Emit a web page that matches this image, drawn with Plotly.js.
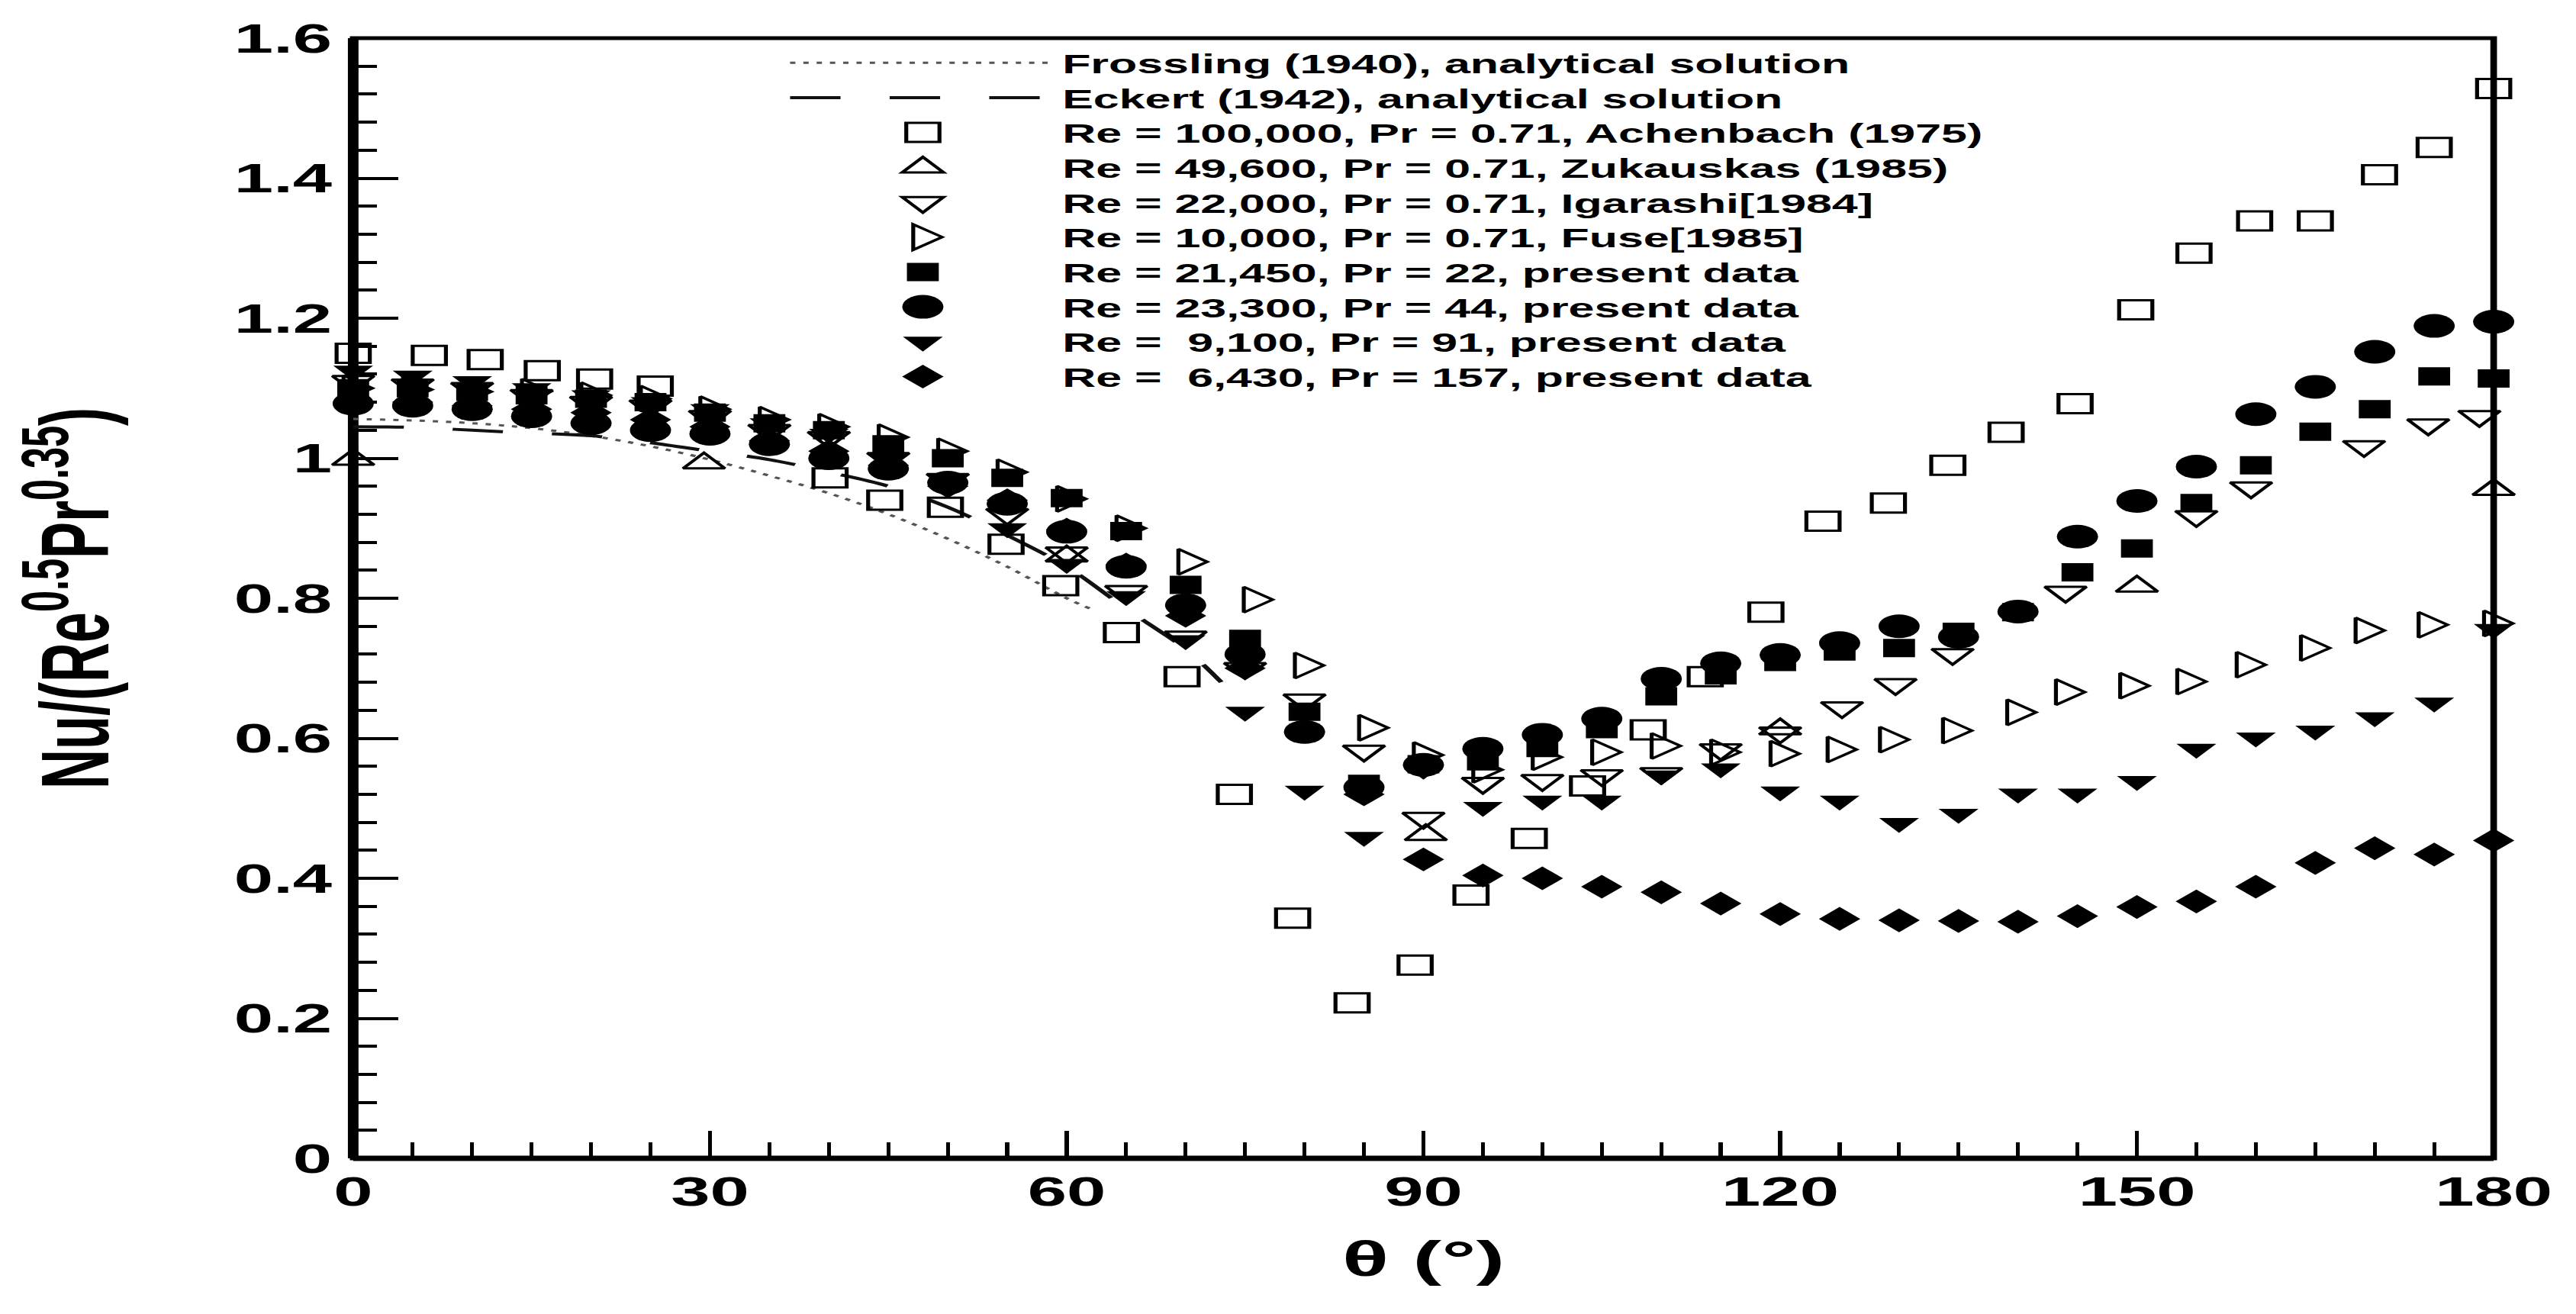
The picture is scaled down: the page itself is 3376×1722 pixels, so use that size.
<!DOCTYPE html>
<html>
<head>
<meta charset="utf-8">
<script src="https://cdn.plot.ly/plotly-3.0.1.min.js"></script>
<style>
  html, body { margin: 0; padding: 0; background: #fff; overflow: hidden; }
  /* the figure is laid out narrow and widened horizontally */
  #chart { width: 1940px; height: 1722px; transform: scaleX(1.7402); transform-origin: 0 0; }
</style>
</head>
<body>
<div id="chart"></div>
<script>
// ---- analytical solutions ----
const thetaFrossling = [0, 5, 10, 15, 20, 25, 30, 35, 40, 45, 50, 55, 60, 62];
const nuFrossling    = [1.056, 1.054, 1.050, 1.043, 1.032, 1.017, 0.998, 0.975, 0.950, 0.920, 0.885, 0.845, 0.800, 0.785];

const thetaEckert = [0, 5, 10, 15, 20, 25, 30, 35, 40, 45, 50, 55, 60, 65, 70, 73];
const nuEckert    = [1.045, 1.044, 1.040, 1.036, 1.032, 1.022, 1.010, 0.998, 0.980, 0.960, 0.930, 0.890, 0.845, 0.785, 0.727, 0.680];

// ---- literature data, Pr = 0.71 ----
const thetaAchenbach = [0, 6.4, 11.1, 15.9, 20.3, 25.4, 40.1, 44.7, 49.8, 54.9, 59.5, 64.6, 69.7, 74.1, 79.0, 84.0, 89.3,
                        94.0, 98.9, 103.8, 108.9, 113.7, 118.8, 123.6, 129.1, 134.1, 139.0, 144.8, 149.9, 154.8, 159.9,
                        165.0, 170.4, 175.0, 180.0];
const nuAchenbach    = [1.150, 1.147, 1.141, 1.125, 1.113, 1.103, 0.972, 0.940, 0.930, 0.877, 0.818, 0.751, 0.688, 0.520,
                        0.343, 0.222, 0.276, 0.376, 0.457, 0.532, 0.612, 0.688, 0.780, 0.910, 0.936, 0.990, 1.037, 1.078,
                        1.212, 1.293, 1.339, 1.339, 1.405, 1.444, 1.528];

const thetaZukauskas = [0, 29.5, 60, 90.2, 120, 150, 180];
const nuZukauskas    = [0.998, 0.993, 0.860, 0.462, 0.613, 0.817, 0.955];

const thetaIgarashi = [0, 5, 10, 15, 20, 25, 30, 35, 40, 45, 50, 55, 60, 65, 70, 75, 80, 85, 90, 95, 100, 105, 110, 115,
                       120, 125.2, 129.7, 134.5, 144, 155, 159.6, 169.1, 174.5, 178.8];
const nuIgarashi    = [1.110, 1.105, 1.100, 1.090, 1.080, 1.075, 1.060, 1.040, 1.030, 1.000, 0.970, 0.920, 0.865, 0.810,
                       0.745, 0.700, 0.655, 0.582, 0.486, 0.536, 0.540, 0.547, 0.550, 0.584, 0.608, 0.644, 0.677, 0.720,
                       0.809, 0.917, 0.958, 1.017, 1.048, 1.060];

const thetaFuse = [0, 5, 10, 15, 20, 25, 30, 35, 40, 45, 50, 55, 60, 65, 70.2, 75.7, 80, 85.4, 90, 95, 100, 105, 110, 115,
                   120, 124.8, 129.2, 134.5, 139.9, 144, 149.4, 154.2, 159.2, 164.6, 169.2, 174.5, 180];
const nuFuse    = [1.100, 1.098, 1.095, 1.095, 1.090, 1.085, 1.070, 1.055, 1.045, 1.030, 1.010, 0.980, 0.942, 0.900,
                   0.852, 0.798, 0.704, 0.615, 0.576, 0.555, 0.573, 0.580, 0.589, 0.580, 0.578, 0.584, 0.598, 0.611,
                   0.637, 0.666, 0.675, 0.681, 0.705, 0.729, 0.754, 0.762, 0.764];

// ---- present data ----
const thetaPresent = [0, 5, 10, 15, 20, 25, 30, 35, 40, 45, 50, 55, 60, 65, 70, 75, 80, 85, 90, 95, 100, 105, 110, 115,
                      120, 125, 130, 135, 140, 145, 150, 155, 160, 165, 170, 175, 180];
const nuPr22  = [1.100, 1.100, 1.095, 1.090, 1.085, 1.080, 1.065, 1.050, 1.040, 1.020, 1.000, 0.972, 0.943, 0.896, 0.819,
                 0.742, 0.638, 0.535, 0.563, 0.567, 0.586, 0.613, 0.660, 0.690, 0.709, 0.724, 0.729, 0.752, 0.780, 0.837,
                 0.871, 0.936, 0.990, 1.038, 1.070, 1.117, 1.114];
const nuPr44  = [1.078, 1.075, 1.070, 1.060, 1.050, 1.040, 1.035, 1.020, 1.000, 0.985, 0.965, 0.935, 0.895, 0.845, 0.790,
                 0.720, 0.609, 0.530, 0.562, 0.585, 0.605, 0.628, 0.685, 0.707, 0.719, 0.736, 0.760, 0.745, 0.781, 0.888,
                 0.939, 0.988, 1.063, 1.102, 1.152, 1.189, 1.195];
const nuPr91  = [1.125, 1.118, 1.110, 1.100, 1.090, 1.080, 1.070, 1.050, 1.035, 1.000, 0.970, 0.900, 0.849, 0.803, 0.740,
                 0.638, 0.525, 0.459, 0.555, 0.502, 0.511, 0.511, 0.547, 0.557, 0.524, 0.511, 0.479, 0.492, 0.521, 0.521,
                 0.539, 0.585, 0.601, 0.611, 0.630, 0.651, 0.756];
const nuPr157 = [1.080, 1.080, 1.075, 1.070, 1.065, 1.055, 1.045, 1.025, 1.010, 0.990, 0.960, 0.940, 0.898, 0.848, 0.775,
                 0.700, 0.610, 0.520, 0.427, 0.404, 0.400, 0.388, 0.380, 0.364, 0.349, 0.342, 0.340, 0.339, 0.338, 0.346,
                 0.359, 0.367, 0.388, 0.422, 0.443, 0.434, 0.454];

const legendNames = [
  'Frossling (1940), analytical solution',
  'Eckert (1942), analytical solution',
  'Re = 100,000, Pr = 0.71, Achenbach (1975)',
  'Re = 49,600, Pr = 0.71, Zukauskas (1985)',
  'Re = 22,000, Pr = 0.71, Igarashi[1984]',
  'Re = 10,000, Pr = 0.71, Fuse[1985]',
  'Re = 21,450, Pr = 22, present data',
  'Re = 23,300, Pr = 44, present data',
  'Re = \u00a09,100, Pr = 91, present data',
  'Re = \u00a06,430, Pr = 157, present data'
];

const FONT = 'Liberation Sans, Arial, Helvetica, sans-serif';
const LEGEND_PITCH = 45.7;   // vertical distance between legend rows, px

function pts(x, y, name, symbol, size, filled) {
  return {
    type: 'scatter', mode: 'markers', x: x, y: y, name: name, cliponaxis: false,
    marker: filled
      ? { symbol: symbol, size: size, color: '#000', line: { width: 0 } }
      : { symbol: symbol, size: size, color: '#000', line: { width: 3, color: '#000' } }
  };
}

const traces = [
  { type: 'scatter', mode: 'lines', x: thetaFrossling, y: nuFrossling, name: legendNames[0],
    line: { color: '#555', width: 3, dash: '4px,6px', shape: 'spline' } },
  { type: 'scatter', mode: 'lines', x: thetaEckert, y: nuEckert, name: legendNames[1],
    line: { color: '#111', width: 4, dash: '38px,37px', shape: 'spline' } },
  pts(thetaAchenbach, nuAchenbach, legendNames[2], 'square-open', 25, false),
  pts(thetaZukauskas, nuZukauskas, legendNames[3], 'triangle-up-open', 27, false),
  pts(thetaIgarashi, nuIgarashi, legendNames[4], 'triangle-down-open', 27, false),
  pts(thetaFuse, nuFuse, legendNames[5], 'triangle-right-open', 29, false),
  pts(thetaPresent, nuPr22, legendNames[6], 'square', 24, true),
  pts(thetaPresent, nuPr44, legendNames[7], 'circle', 31, true),
  pts(thetaPresent, nuPr91, legendNames[8], 'triangle-down', 26, true),
  pts(thetaPresent, nuPr157, legendNames[9], 'diamond', 24, true)
];

const layout = {
  width: 1940, height: 1722,
  margin: { l: 266, r: 62, t: 50, b: 204 },
  paper_bgcolor: '#fff', plot_bgcolor: '#fff',
  font: { family: FONT, color: '#000', weight: 'bold' },
  showlegend: true,
  legend: {
    x: 0.201, y: 0.998, xanchor: 'left', yanchor: 'top',
    bgcolor: 'rgba(0,0,0,0)', borderwidth: 0, itemwidth: 200, tracegroupgap: 0,
    font: { family: FONT, size: 35, color: '#000', weight: 'bold' }
  },
  xaxis: {
    range: [0, 180], tick0: 0, dtick: 30,
    ticks: 'inside', ticklen: 36, tickwidth: 3, tickcolor: '#000',
    minor: { dtick: 5, ticks: 'inside', ticklen: 21, tickwidth: 3, tickcolor: '#000' },
    showgrid: false, zeroline: false, showline: false, layer: 'below traces',
    tickfont: { family: FONT, size: 53, color: '#000', weight: 'bold' },
    ticklabelstandoff: 8,
    title: { text: '\u03b8 (\u00b0)', font: { family: FONT, size: 65, color: '#000', weight: 'bold' }, standoff: 36 }
  },
  yaxis: {
    range: [0, 1.6], tick0: 0, dtick: 0.2,
    ticks: 'inside', ticklen: 34, tickwidth: 4, tickcolor: '#000',
    minor: { dtick: 0.04, ticks: 'inside', ticklen: 18, tickwidth: 4, tickcolor: '#000' },
    showgrid: false, zeroline: false, showline: false, layer: 'below traces',
    tickfont: { family: FONT, size: 53, color: '#000', weight: 'bold' },
    ticklabelstandoff: 15,
    title: { text: 'Nu/(Re<sup>0.5</sup>Pr<sup>0.35</sup>)', font: { family: FONT, size: 72, color: '#000', weight: 'bold' }, standoff: 70 }
  },
  shapes: [
    { type: 'rect', xref: 'paper', yref: 'paper', x0: 0, x1: 1, y0: 0, y1: 1, layer: 'below',
      line: { color: '#000', width: 5 } },
    { type: 'line', xref: 'paper', yref: 'paper', x0: 0, x1: 0, y0: 0, y1: 1, layer: 'below',
      line: { color: '#000', width: 8 } },
    { type: 'line', xref: 'paper', yref: 'paper', x0: 0, x1: 1, y0: 0, y1: 0, layer: 'below',
      line: { color: '#000', width: 7 } }
  ]
};

Plotly.newPlot('chart', traces, layout, { displayModeBar: false, staticPlot: true }).then(function (gd) {
  const items = gd.querySelectorAll('.legend .traces');
  let y0 = null;
  items.forEach(function (item, i) {
    // tighter, even row spacing
    const m = /translate\(\s*([-\d.]+)[ ,]+([-\d.]+)\s*\)/.exec(item.getAttribute('transform') || '');
    if (m) {
      const x = parseFloat(m[1]);
      if (y0 === null) y0 = parseFloat(m[2]);
      item.setAttribute('transform', 'translate(' + x + ',' + (y0 + i * LEGEND_PITCH) + ')');
    }
    // legend keys are drawn at a capped size; bring them up to the plotted marker size
    const tr = traces[i];
    if (!tr || !tr.marker) return;
    const k = tr.marker.size / 16;
    item.querySelectorAll('.legendpoints path.scatterpts').forEach(function (p) {
      const t = p.getAttribute('transform') || '';
      p.setAttribute('transform', t + ' scale(' + k + ')');
      const lw = (tr.marker.line && tr.marker.line.width) || 0;
      p.style.strokeWidth = (lw / k) + 'px';
    });
  });
});
</script>
</body>
</html>
